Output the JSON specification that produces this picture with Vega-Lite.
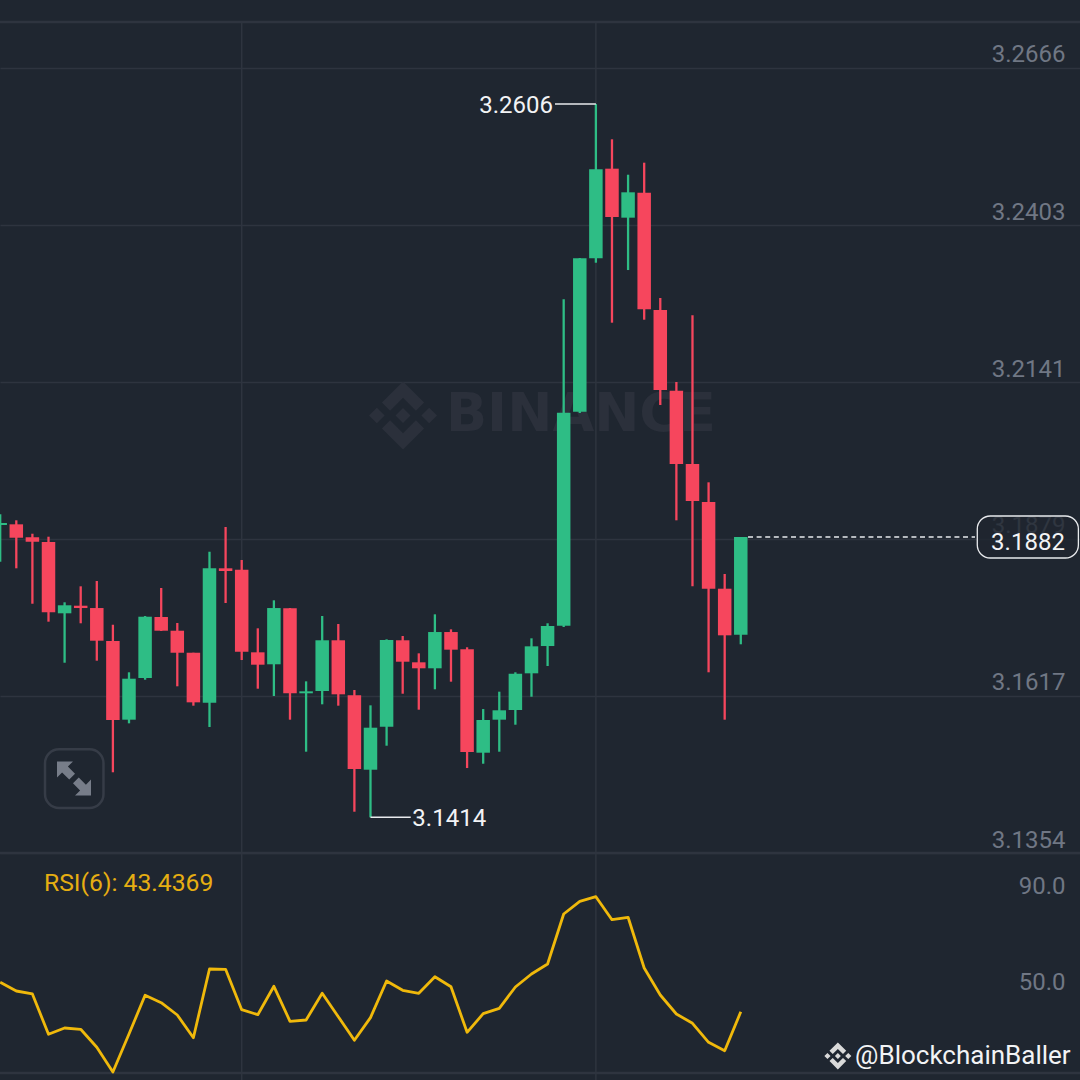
{
"$schema":"https://vega.github.io/schema/vega-lite/v6.json",
"background":"#1F2630",
"padding":0,
"spacing":0,
"bounds":"flush",
"config":{"view":{"stroke":null},"axis":{"labelFont":"Roboto"}},
"datasets":{
"candles":[
{"i":0,"open":3.19022,"close":3.19055,"high":3.19201,"low":3.18408,"dir":"up"},
{"i":1,"open":3.19033,"close":3.18809,"high":3.19100,"low":3.18298,"dir":"down"},
{"i":2,"open":3.18816,"close":3.18743,"high":3.18876,"low":3.17706,"dir":"down"},
{"i":3,"open":3.18738,"close":3.17563,"high":3.18826,"low":3.17406,"dir":"down"},
{"i":4,"open":3.17546,"close":3.17680,"high":3.17730,"low":3.16720,"dir":"up"},
{"i":5,"open":3.17673,"close":3.17634,"high":3.17997,"low":3.17379,"dir":"down"},
{"i":6,"open":3.17634,"close":3.17088,"high":3.18086,"low":3.16754,"dir":"down"},
{"i":7,"open":3.17083,"close":3.15763,"high":3.17355,"low":3.14889,"dir":"down"},
{"i":8,"open":3.15768,"close":3.16453,"high":3.16560,"low":3.15707,"dir":"up"},
{"i":9,"open":3.16465,"close":3.17489,"high":3.17501,"low":3.16436,"dir":"up"},
{"i":10,"open":3.17484,"close":3.17255,"high":3.17969,"low":3.17250,"dir":"down"},
{"i":11,"open":3.17255,"close":3.16887,"high":3.17384,"low":3.16326,"dir":"down"},
{"i":12,"open":3.16887,"close":3.16058,"high":3.16887,"low":3.16002,"dir":"down"},
{"i":13,"open":3.16052,"close":3.18298,"high":3.18575,"low":3.15646,"dir":"up"},
{"i":14,"open":3.18298,"close":3.18253,"high":3.18988,"low":3.17718,"dir":"down"},
{"i":15,"open":3.18275,"close":3.16904,"high":3.18437,"low":3.16765,"dir":"down"},
{"i":16,"open":3.16894,"close":3.16687,"high":3.17295,"low":3.16286,"dir":"down"},
{"i":17,"open":3.16694,"close":3.17634,"high":3.17763,"low":3.16164,"dir":"up"},
{"i":18,"open":3.17630,"close":3.16209,"high":3.17634,"low":3.15768,"dir":"down"},
{"i":19,"open":3.16209,"close":3.16242,"high":3.16409,"low":3.15233,"dir":"up"},
{"i":20,"open":3.16247,"close":3.17095,"high":3.17501,"low":3.16025,"dir":"up"},
{"i":21,"open":3.17095,"close":3.16192,"high":3.17367,"low":3.16002,"dir":"down"},
{"i":22,"open":3.16175,"close":3.14944,"high":3.16264,"low":3.14230,"dir":"down"},
{"i":23,"open":3.14932,"close":3.15634,"high":3.16008,"low":3.14136,"dir":"up"},
{"i":24,"open":3.15651,"close":3.17100,"high":3.17111,"low":3.15333,"dir":"up"},
{"i":25,"open":3.17095,"close":3.16737,"high":3.17167,"low":3.16202,"dir":"down"},
{"i":26,"open":3.16727,"close":3.16627,"high":3.16877,"low":3.15935,"dir":"down"},
{"i":27,"open":3.16627,"close":3.17233,"high":3.17529,"low":3.16276,"dir":"up"},
{"i":28,"open":3.17233,"close":3.16938,"high":3.17278,"low":3.16403,"dir":"down"},
{"i":29,"open":3.16944,"close":3.15228,"high":3.16978,"low":3.14960,"dir":"down"},
{"i":30,"open":3.15216,"close":3.15763,"high":3.15946,"low":3.15032,"dir":"up"},
{"i":31,"open":3.15768,"close":3.15925,"high":3.16236,"low":3.15233,"dir":"up"},
{"i":32,"open":3.15930,"close":3.16537,"high":3.16560,"low":3.15684,"dir":"up"},
{"i":33,"open":3.16543,"close":3.16994,"high":3.17128,"low":3.16152,"dir":"up"},
{"i":34,"open":3.16999,"close":3.17334,"high":3.17379,"low":3.16665,"dir":"up"},
{"i":35,"open":3.17339,"close":3.20899,"high":3.22794,"low":3.17317,"dir":"up"},
{"i":36,"open":3.20915,"close":3.23479,"high":3.23484,"low":3.20894,"dir":"up"},
{"i":37,"open":3.23479,"close":3.24967,"high":3.26058,"low":3.23405,"dir":"up"},
{"i":38,"open":3.24977,"close":3.24169,"high":3.25468,"low":3.22403,"dir":"down"},
{"i":39,"open":3.24158,"close":3.24582,"high":3.24876,"low":3.23283,"dir":"up"},
{"i":40,"open":3.24575,"close":3.22627,"high":3.25077,"low":3.22453,"dir":"down"},
{"i":41,"open":3.22615,"close":3.21278,"high":3.22816,"low":3.21027,"dir":"down"},
{"i":42,"open":3.21266,"close":3.20041,"high":3.21412,"low":3.19100,"dir":"down"},
{"i":43,"open":3.20041,"close":3.19423,"high":3.22526,"low":3.17997,"dir":"down"},
{"i":44,"open":3.19406,"close":3.17957,"high":3.19735,"low":3.16560,"dir":"down"},
{"i":45,"open":3.17957,"close":3.17178,"high":3.18203,"low":3.15768,"dir":"down"},
{"i":46,"open":3.17188,"close":3.18821,"high":3.18821,"low":3.17028,"dir":"up"}
],
"rsi":[
{"i":0,"rsi":55.68},{"i":1,"rsi":52.07},{"i":2,"rsi":50.83},{"i":3,"rsi":34.12},{"i":4,"rsi":36.74},{"i":5,"rsi":36.2},{"i":6,"rsi":28.74},{"i":7,"rsi":18.5},{"i":8,"rsi":34.25},{"i":9,"rsi":50.29},{"i":10,"rsi":47.22},{"i":11,"rsi":42.12},{"i":12,"rsi":32.71},{"i":13,"rsi":61.19},{"i":14,"rsi":61.07},{"i":15,"rsi":44.32},{"i":16,"rsi":42.25},{"i":17,"rsi":54.02},{"i":18,"rsi":39.51},{"i":19,"rsi":40.05},{"i":20,"rsi":51.12},{"i":21,"rsi":41.42},{"i":22,"rsi":31.64},{"i":23,"rsi":41.01},{"i":24,"rsi":56.22},{"i":25,"rsi":52.36},{"i":26,"rsi":51.12},{"i":27,"rsi":58.0},{"i":28,"rsi":53.85},{"i":29,"rsi":34.95},{"i":30,"rsi":42.66},{"i":31,"rsi":44.9},{"i":32,"rsi":53.73},{"i":33,"rsi":59.12},{"i":34,"rsi":63.26},{"i":35,"rsi":83.99},{"i":36,"rsi":89.25},{"i":37,"rsi":91.16},{"i":38,"rsi":81.63},{"i":39,"rsi":82.62},{"i":40,"rsi":61.61},{"i":41,"rsi":50.41},{"i":42,"rsi":42.54},{"i":43,"rsi":38.68},{"i":44,"rsi":30.81},{"i":45,"rsi":27.33},{"i":46,"rsi":43.44}
]
},
"vconcat":[
{
"width":1080,"height":853,
"encoding":{
"x":{"field":"i","type":"quantitative","scale":{"domain":[-0.0124,67.07],"nice":false,"zero":false,"padding":0},"axis":null},
"y":{"field":"p","type":"quantitative","scale":{"domain":[3.1354,3.27796],"nice":false,"zero":false},
"axis":{"orient":"right","offset":-15,"values":[3.1354,3.1617,3.1879,3.2141,3.2403,3.2666],"format":".4f","title":null,"domain":false,"ticks":false,"labelPadding":0,"labelAlign":"right","labelBaseline":"middle","labelOffset":-13,"labelFontSize":24,"labelColor":"#707784","labelFont":"Roboto","grid":true,"gridColor":"#2E343F","gridWidth":1.5,"labelBound":false,"labelFlush":false,"labelOverlap":false}}
},
"layer":[
{"data":{"values":[{"i":36.07,"p":3.20852,"label":"BINANCE"}]},
 "mark":{"type":"text","font":"DejaVu Sans","fontWeight":"bold","fontSize":54,"color":"#2B303B","align":"center","baseline":"middle"},
 "encoding":{"text":{"field":"label"}}},
{"data":{"values":[{"i":25.02,"p":3.20852,"name":"watermark logo"}]},
 "mark":{"type":"point","filled":true,"opacity":1,"color":"#2B303B","size":4624,"shape":"M0,-.22L.22,0L0,.22L-.22,0ZM-.77,-.23L-.54,0L-.77,.23L-1,0ZM.77,-.23L1,0L.77,.23L.54,0ZM0,-1L.62,-.38L.38,-.14L0,-.52L-.38,-.14L-.62,-.38ZM0,1L.62,.38L.38,.14L0,.52L-.38,.14L-.62,.38Z"}},
{"data":{"values":[{"i":15,"p":3.27428,"p2":3.1354},{"i":37,"p":3.27428,"p2":3.1354}]},
 "mark":{"type":"rule","color":"#2E343F","strokeWidth":1.5},
 "encoding":{"y2":{"field":"p2"}}},
{"data":{"values":[{"p":3.27428},{"p":3.1354}]},
 "mark":{"type":"rule","color":"#2E343F","strokeWidth":2.5,"clip":true},
 "encoding":{"x":{"value":0},"x2":{"value":1080}}},
{"data":{"name":"candles"},
 "mark":{"type":"rule","strokeWidth":2.3,"clip":true},
 "encoding":{
  "y":{"field":"high","type":"quantitative","scale":{"domain":[3.1354,3.27796],"nice":false,"zero":false},
"axis":{"orient":"right","offset":-15,"values":[3.1354,3.1617,3.1879,3.2141,3.2403,3.2666],"format":".4f","title":null,"domain":false,"ticks":false,"labelPadding":0,"labelAlign":"right","labelBaseline":"middle","labelOffset":-13,"labelFontSize":24,"labelColor":"#707784","labelFont":"Roboto","grid":true,"gridColor":"#2E343F","gridWidth":1.5,"labelBound":false,"labelFlush":false,"labelOverlap":false}},
  "y2":{"field":"low"},
  "color":{"field":"dir","type":"nominal","legend":null,"scale":{"domain":["up","down"],"range":["#2EBD85","#F6465D"]}}
 }},
{"data":{"name":"candles"},
 "mark":{"type":"bar","size":13.5,"orient":"vertical","clip":true},
 "encoding":{
  "y":{"field":"open","type":"quantitative","scale":{"domain":[3.1354,3.27796],"nice":false,"zero":false},
"axis":{"orient":"right","offset":-15,"values":[3.1354,3.1617,3.1879,3.2141,3.2403,3.2666],"format":".4f","title":null,"domain":false,"ticks":false,"labelPadding":0,"labelAlign":"right","labelBaseline":"middle","labelOffset":-13,"labelFontSize":24,"labelColor":"#707784","labelFont":"Roboto","grid":true,"gridColor":"#2E343F","gridWidth":1.5,"labelBound":false,"labelFlush":false,"labelOverlap":false}},
  "y2":{"field":"close"},
  "color":{"field":"dir","type":"nominal","legend":null,"scale":{"domain":["up","down"],"range":["#2EBD85","#F6465D"]}}
 }},
{"data":{"values":[{"i":34.46,"i2":37,"p":3.26058},{"i":23,"i2":25.5,"p":3.14136}]},
 "mark":{"type":"rule","color":"#E8EAED","strokeWidth":1.5},
 "encoding":{"x2":{"field":"i2"}}},
{"data":{"values":[{"i":46.45,"i2":60.55,"p":3.18821}]},
 "mark":{"type":"rule","color":"#E8EAED","strokeWidth":1.5,"strokeDash":[5,3.6]},
 "encoding":{"x2":{"field":"i2"}}},
{"data":{"values":[{"i":60.69,"i2":66.97,"p":3.19172,"p2":3.1847}]},
 "mark":{"type":"rect","fill":"#1F2630","fillOpacity":0.8,"stroke":"#E8EAED","strokeOpacity":1,"strokeWidth":1.3,"cornerRadius":13},
 "encoding":{"x2":{"field":"i2"},"y2":{"field":"p2"}}},
{"data":{"values":[{"i":63.84,"p":3.18821,"label":"3.1882"}]},
 "mark":{"type":"text","font":"Roboto","fontSize":24,"color":"#F2F3F5","align":"center","baseline":"middle","dy":6},
 "encoding":{"text":{"field":"label"}}},
{"data":{"values":[{"i":34.34,"p":3.26058,"label":"3.2606"}]},
 "mark":{"type":"text","font":"Roboto","fontSize":24,"color":"#F2F3F5","align":"right","baseline":"middle","dy":2},
 "encoding":{"text":{"field":"label"}}},
{"data":{"values":[{"i":25.6,"p":3.14136,"label":"3.1414"}]},
 "mark":{"type":"text","font":"Roboto","fontSize":24,"color":"#F2F3F5","align":"left","baseline":"middle","dy":2},
 "encoding":{"text":{"field":"label"}}},
{"data":{"values":[{"i":2.783,"i2":6.416,"p":3.15273,"p2":3.14292}]},
 "mark":{"type":"rect","fill":null,"stroke":"#363C47","strokeWidth":2.5,"cornerRadius":14},
 "encoding":{"x2":{"field":"i2"},"y2":{"field":"p2"}}},
{"data":{"values":[{"i":4.584,"p":3.14785,"name":"expand icon"}]},
 "mark":{"type":"point","filled":true,"opacity":1,"color":"#777D89","size":1156,"shape":"M-1,-1L-.06,-1L-.36,-.7L.06,-.28L-.28,.06L-.7,-.36L-1,-.06ZM1,1L.06,1L.36,.7L-.06,.28L.28,-.06L.7,.36L1,.06Z"}}
]
},
{
"width":1080,"height":227,
"encoding":{
"x":{"field":"i","type":"quantitative","scale":{"domain":[-0.0124,67.07],"nice":false,"zero":false,"padding":0},"axis":null},
"y":{"field":"rsi","type":"quantitative","scale":{"domain":[15.18,109.27],"nice":false,"zero":false},
"axis":{"orient":"right","offset":-15,"values":[50,90],"format":".1f","title":null,"domain":false,"ticks":false,"grid":false,"labelPadding":0,"labelAlign":"right","labelBaseline":"middle","labelOffset":-13,"labelFontSize":24,"labelColor":"#707784","labelFont":"Roboto","labelBound":false,"labelFlush":false,"labelOverlap":false}}
},
"layer":[
{"data":{"values":[{"i":15},{"i":37}]},
 "mark":{"type":"rule","color":"#2E343F","strokeWidth":1.5},
 "encoding":{"y":{"value":0},"y2":{"value":227}}},
{"data":{"values":[{"rsi":18.08},{"rsi":109.27}]},
 "mark":{"type":"rule","color":"#2E343F","strokeWidth":2.5,"clip":true},
 "encoding":{"x":{"value":0},"x2":{"value":1080}}},
{"data":{"name":"rsi"},
 "mark":{"type":"line","color":"#F0B90B","strokeWidth":2.8,"strokeJoin":"round","clip":true}},
{"data":{"values":[{"i":2.72,"rsi":96.43,"label":"RSI(6): 43.4369"}]},
 "mark":{"type":"text","font":"Roboto","fontSize":24.7,"color":"#E6AE12","align":"left","baseline":"middle"},
 "encoding":{"text":{"field":"label"}}},
{"data":{"values":[{"i":52.03,"rsi":25.13,"name":"small logo"}]},
 "mark":{"type":"point","filled":true,"opacity":1,"color":"#D9D9D9","size":729,"shape":"M0,-.22L.22,0L0,.22L-.22,0ZM-.77,-.23L-.54,0L-.77,.23L-1,0ZM.77,-.23L1,0L.77,.23L.54,0ZM0,-1L.62,-.38L.38,-.14L0,-.52L-.38,-.14L-.62,-.38ZM0,1L.62,.38L.38,.14L0,.52L-.38,.14L-.62,.38Z"}},
{"data":{"values":[{"i":53.1,"rsi":25.13,"label":"@BlockchainBaller"}]},
 "mark":{"type":"text","font":"Roboto","fontSize":26,"color":"#F2F3F5","align":"left","baseline":"middle"},
 "encoding":{"text":{"field":"label"}}}
]
}
]
}
